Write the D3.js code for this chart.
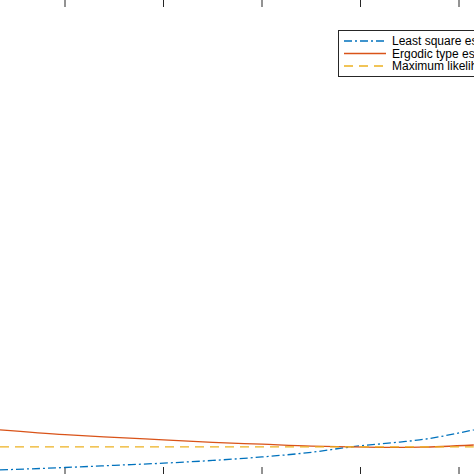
<!DOCTYPE html>
<html><head><meta charset="utf-8">
<script src="https://cdn.jsdelivr.net/npm/d3@7"></script>
<style>body{margin:0;background:#fff}</style></head>
<body><svg id="c" width="474" height="474"></svg>
<script>
var xs = [0.34, 1, 1.5, 2, 2.5, 3, 3.5, 3.9, 4.4, 4.6, 5.15];
var lse = [0.15, 0.24, 0.32, 0.4, 0.5, 0.63, 0.8, 1.0, 1.18, 1.26, 1.63];
var ergodic = [1.63, 1.45, 1.35, 1.26, 1.17, 1.1, 1.03, 1.0, 0.98, 0.99, 1.07];
var mle = [1, 1, 1, 1, 1, 1, 1, 1, 1, 1, 1];
var ticks = [1, 2, 3, 4, 5];
var names = ["Least square estimator", "Ergodic type estimator", "Maximum likelihood estimator"];
var colors = ["#0072BD", "#D95319", "#EDB120"];
var dashes = ["8,3,2,3", null, "9,6"];

var svg = d3.select('#c');
var x = d3.scaleLinear().domain([1, 5]).range([65, 459]);
var y = d3.scaleLinear().domain([0, 17.5]).range([474, 0]);

// ticks top and bottom
ticks.forEach(function(t){
    svg.append('line').attr('x1', x(t)).attr('x2', x(t)).attr('y1', 0).attr('y2', 7).attr('stroke', '#262626');
    svg.append('line').attr('x1', x(t)).attr('x2', x(t)).attr('y1', 467).attr('y2', 474).attr('stroke', '#262626');
});

var line = d3.line().x(function(d){ return x(d[0]); }).y(function(d){ return y(d[1]); }).curve(d3.curveMonotoneX);
[lse, ergodic, mle].forEach(function(s, i){
    svg.append('path').datum(d3.zip(xs, s)).attr('d', line)
        .attr('fill', 'none').attr('stroke', colors[i]).attr('stroke-width', 1.3)
        .attr('stroke-dasharray', dashes[i]);
});

var lg = svg.append('g');
lg.append('rect').attr('x', 338.5).attr('y', 30.5).attr('width', 200).attr('height', 46)
    .attr('fill', '#fff').attr('stroke', '#262626');
names.forEach(function(n, i){
    var yy = 41 + i * 12.5;
    lg.append('line').attr('x1', 344).attr('x2', 386).attr('y1', yy).attr('y2', yy)
        .attr('stroke', colors[i]).attr('stroke-width', 1.3).attr('stroke-dasharray', dashes[i]);
    lg.append('text').attr('x', 392).attr('y', yy + 4).text(n)
        .attr('font-family', 'Liberation Sans, Arial, sans-serif').attr('font-size', 12).attr('fill', '#000');
});
</script></body></html>
